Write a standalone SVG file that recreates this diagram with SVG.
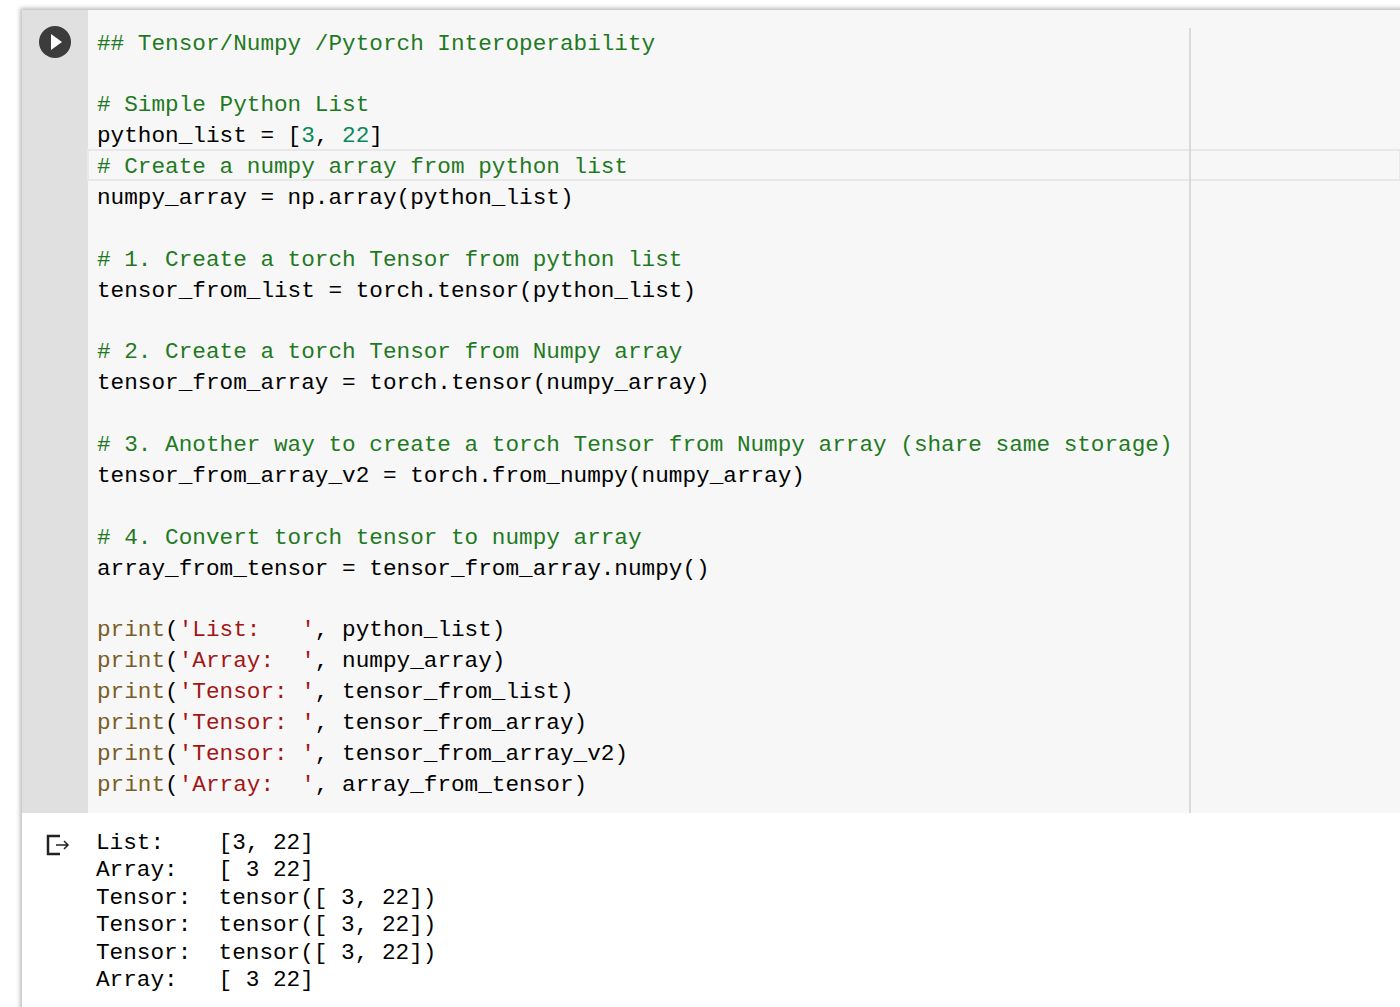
<svg xmlns="http://www.w3.org/2000/svg" width="1400" height="1007" viewBox="0 0 1400 1007">
<style>
text{font-family:"Liberation Mono","Courier New",monospace;font-size:22.7px;fill:#000;white-space:pre}
.c{fill:#1f7a1f}.n{fill:#09885a}.f{fill:#795e26}.s{fill:#a31515}
</style>
<defs><filter id="sh" x="-5%" y="-5%" width="110%" height="110%"><feGaussianBlur stdDeviation="2"/></filter></defs>
<rect width="1400" height="1007" fill="#fff"/>
<rect x="20" y="8" width="1390" height="1010" fill="#bbb" filter="url(#sh)"/>
<rect x="22" y="10" width="1378" height="997" fill="#fff"/>
<rect x="22" y="10" width="66" height="803" fill="#e0e0e0"/>
<rect x="88" y="10" width="1312" height="803" fill="#f7f7f7"/>
<rect x="88" y="150" width="1312" height="30" fill="none" stroke="#e8e8e8" stroke-width="2"/>
<line x1="1190" y1="28" x2="1190" y2="813" stroke="#d0d0d0" stroke-width="1.5"/>
<g id="run"><circle cx="55" cy="42" r="16" fill="#3c3c3c"/><polygon points="51,34 51,50 62,42" fill="#fff"/></g>
<g id="outicon" fill="none" stroke="#222" stroke-width="2.5"><path d="M60,836 H48 V854 H60"/><path d="M56,845 H68 M64,841 L68,845 L64,849" stroke-width="1.5"/></g>
<g id="code" xml:space="preserve">
<text x="97" y="50" class="c">## Tensor/Numpy /Pytorch Interoperability</text>
<text x="97" y="111" class="c"># Simple Python List</text>
<text x="97" y="142">python_list = [<tspan class="n">3</tspan>, <tspan class="n">22</tspan>]</text>
<text x="97" y="173" class="c"># Create a numpy array from python list</text>
<text x="97" y="204">numpy_array = np.array(python_list)</text>
<text x="97" y="266" class="c"># 1. Create a torch Tensor from python list</text>
<text x="97" y="297">tensor_from_list = torch.tensor(python_list)</text>
<text x="97" y="358" class="c"># 2. Create a torch Tensor from Numpy array</text>
<text x="97" y="389">tensor_from_array = torch.tensor(numpy_array)</text>
<text x="97" y="451" class="c"># 3. Another way to create a torch Tensor from Numpy array (share same storage)</text>
<text x="97" y="482">tensor_from_array_v2 = torch.from_numpy(numpy_array)</text>
<text x="97" y="544" class="c"># 4. Convert torch tensor to numpy array</text>
<text x="97" y="575">array_from_tensor = tensor_from_array.numpy()</text>
<text x="97" y="636"><tspan class="f">print</tspan>(<tspan class="s">'List:   '</tspan>, python_list)</text>
<text x="97" y="667"><tspan class="f">print</tspan>(<tspan class="s">'Array:  '</tspan>, numpy_array)</text>
<text x="97" y="698"><tspan class="f">print</tspan>(<tspan class="s">'Tensor: '</tspan>, tensor_from_list)</text>
<text x="97" y="729"><tspan class="f">print</tspan>(<tspan class="s">'Tensor: '</tspan>, tensor_from_array)</text>
<text x="97" y="760"><tspan class="f">print</tspan>(<tspan class="s">'Tensor: '</tspan>, tensor_from_array_v2)</text>
<text x="97" y="791"><tspan class="f">print</tspan>(<tspan class="s">'Array:  '</tspan>, array_from_tensor)</text>
</g>
<g id="output" xml:space="preserve">
<text x="96" y="849">List:    [3, 22]</text>
<text x="96" y="876">Array:   [ 3 22]</text>
<text x="96" y="904">Tensor:  tensor([ 3, 22])</text>
<text x="96" y="931">Tensor:  tensor([ 3, 22])</text>
<text x="96" y="959">Tensor:  tensor([ 3, 22])</text>
<text x="96" y="986">Array:   [ 3 22]</text>
</g>
</svg>
